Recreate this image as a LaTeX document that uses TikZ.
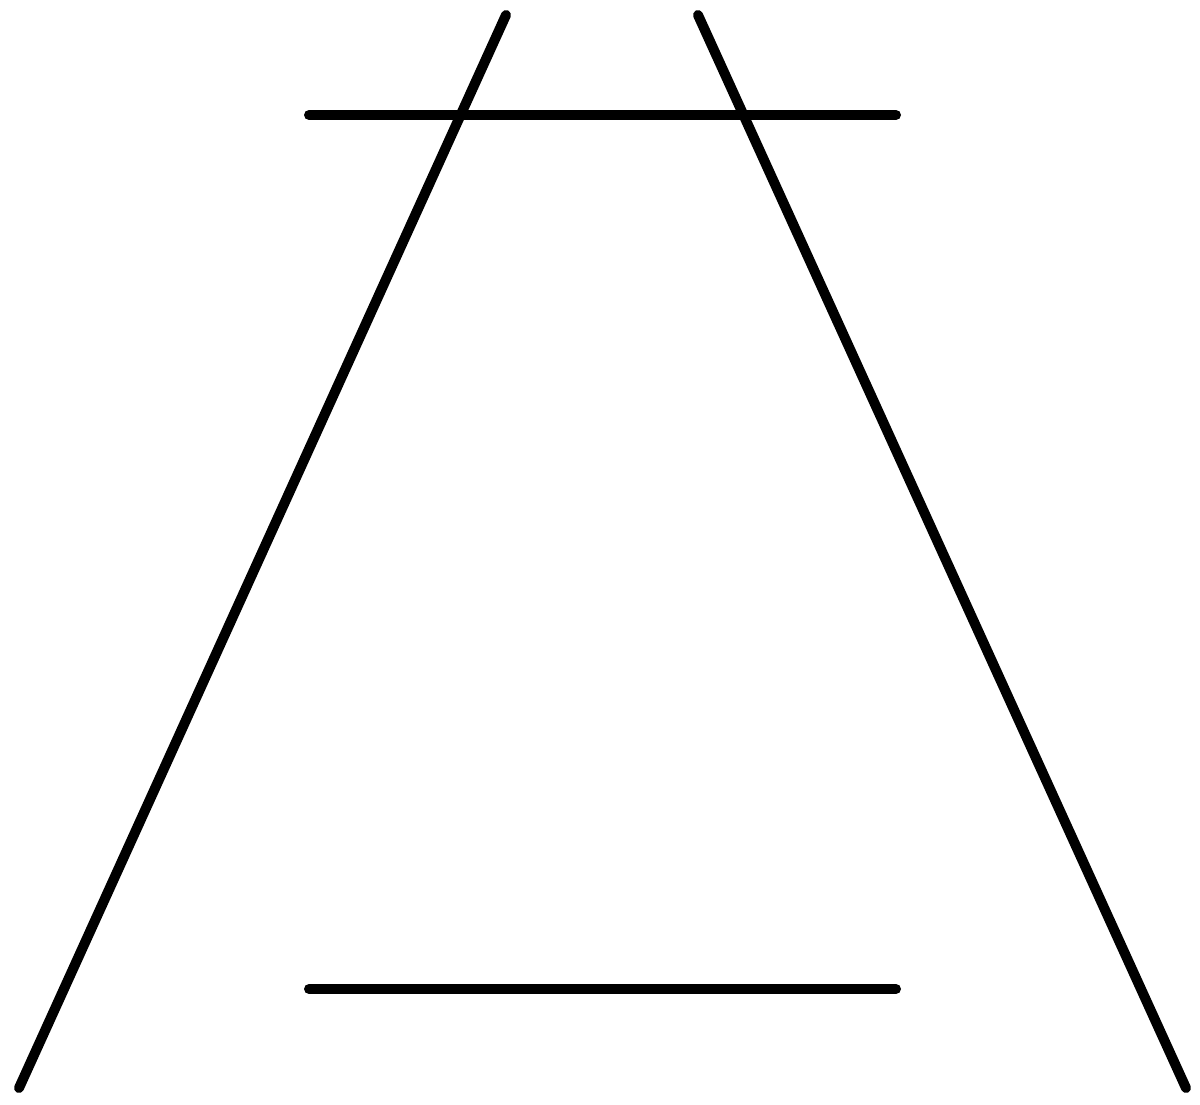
\documentclass[tikz,border=0pt]{standalone}
\begin{document}
\begin{tikzpicture}[x=1pt,y=-1pt,
  seg/.style={draw=black,line width=10pt,line cap=round}]
\useasboundingbox (0,0) rectangle (1200,1104);
\coordinate (lt) at (506,15);
\coordinate (lb) at (19,1088);
\coordinate (rt) at (698,15);
\coordinate (rb) at (1186,1088);
\coordinate (tl) at (309,115);
\coordinate (tr) at (896,115);
\coordinate (bl) at (309,989);
\coordinate (br) at (896,989);
\draw[seg] (lt) -- (lb);
\draw[seg] (rt) -- (rb);
\draw[seg] (tl) -- (tr);
\draw[seg] (bl) -- (br);
\end{tikzpicture}
\end{document}
